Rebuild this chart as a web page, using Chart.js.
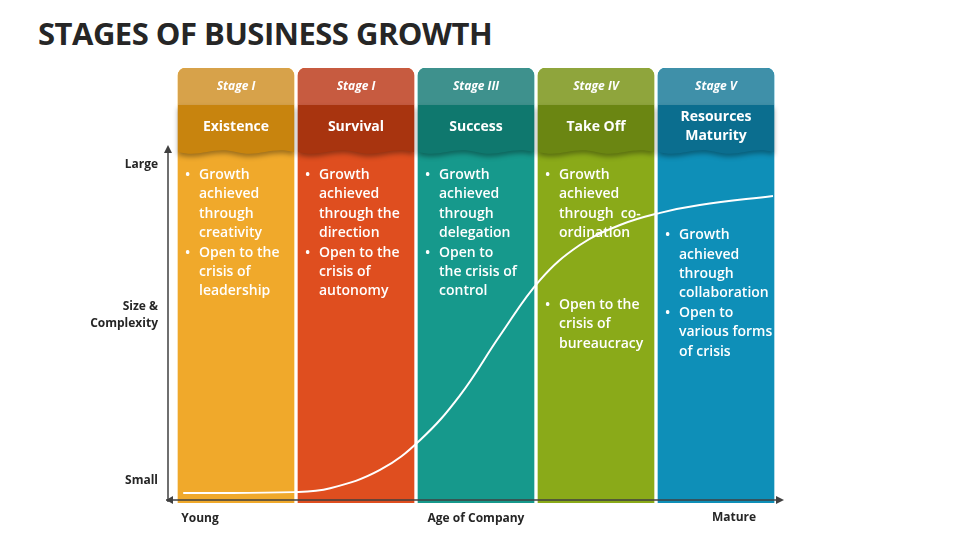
<!DOCTYPE html>
<html><head><meta charset="utf-8">
<script src="https://cdn.jsdelivr.net/npm/chart.js@4/dist/chart.umd.min.js"></script>
<style>
html,body{margin:0;padding:0;background:#fff;width:960px;height:540px;overflow:hidden;font-family:"Open Sans",sans-serif}
#t{position:absolute;left:38px;top:12px;font:bold 31px "Open Sans",sans-serif;color:#262626;letter-spacing:-0.5px}
#c{position:absolute;left:0;top:0}
</style></head><body>
<div id="t">STAGES OF BUSINESS GROWTH</div>
<canvas id="c" width="960" height="540"></canvas>
<script>
const stageLabels=["Stage I","Stage I","Stage III","Stage IV","Stage V"];
const stageTitles=[["Existence"],["Survival"],["Success"],["Take Off"],["Resources","Maturity"]];
const bodyColors=["#F0A92B","#DF4E1F","#16998C","#8AAA19","#0E8FB8"];
const bandColors=["#D7A24A","#C75B40","#3E918D","#8FA53C","#3F90A9"];
const titleColors=["#C8840E","#A8340F","#0F786E","#6B8612","#0B6E8F"];
const stageText=[
 [[0,"• Growth"],[1,"achieved"],[2,"through"],[3,"creativity"],[4,"• Open to the"],[5,"crisis of"],[6,"leadership"]],
 [[0,"• Growth"],[1,"achieved"],[2,"through the"],[3,"direction"],[4,"• Open to the"],[5,"crisis of"],[6,"autonomy"]],
 [[0,"• Growth"],[1,"achieved"],[2,"through"],[3,"delegation"],[4,"• Open to"],[5,"the crisis of"],[6,"control"]],
 [[0,"• Growth"],[1,"achieved"],[2,"through  co-"],[3,"ordination"],[6.7,"• Open to the"],[7.7,"crisis of"],[8.7,"bureaucracy"]],
 [[3.1,"• Growth"],[4.1,"achieved"],[5.1,"through"],[6.1,"collaboration"],[7.1,"• Open to"],[8.1,"various forms"],[9.1,"of crisis"]]
];
const columnHeight=[100,100,100,100,100];
const curveX=[1.2,19.5,25.7,34,40.7,47.3,54,60.7,67.3,74,80.7,87.3,99.5];
const curveY=[2.3,2.5,3.4,7.6,14.5,24.7,38.5,51.3,59.3,63.9,66.7,68.5,70.6];
const axisLabels={yTop:"Large",yMid:["Size &","Complexity"],yBottom:"Small",xLeft:"Young",xMid:"Age of Company",xRight:"Mature"};

function rr(ctx,x,y,w,h,r){ctx.beginPath();ctx.moveTo(x+r,y);ctx.lineTo(x+w-r,y);ctx.quadraticCurveTo(x+w,y,x+w,y+r);ctx.lineTo(x+w,y+h);ctx.lineTo(x,y+h);ctx.lineTo(x,y+r);ctx.quadraticCurveTo(x,y,x+r,y);ctx.closePath();}

const deco={id:"deco",
 beforeDatasetDraw(ch,args){
  if(args.index!==1)return;
  const ctx=ch.ctx;const meta=ch.getDatasetMeta(0);
  meta.data.forEach((b,i)=>{
   const w=b.width,x=b.x-w/2,top=b.y;
   ctx.save();
   rr(ctx,x,top,w,38,8);ctx.fillStyle=bandColors[i];ctx.fill();
   ctx.beginPath();ctx.moveTo(x,top+37);ctx.lineTo(x+w,top+37);ctx.lineTo(x+w,top+84);
   const base=top+84;
   ctx.bezierCurveTo(x+w*0.8,base-6,x+w*0.7,base+6,x+w*0.5,base);
   ctx.bezierCurveTo(x+w*0.3,base-6,x+w*0.2,base+6,x,base);
   ctx.closePath();ctx.shadowColor="rgba(0,0,0,0.35)";ctx.shadowBlur=5;ctx.shadowOffsetY=3;
   ctx.fillStyle=titleColors[i];ctx.fill();
   ctx.restore();
   ctx.save();ctx.fillStyle="#fff";ctx.textAlign="center";ctx.textBaseline="middle";
   ctx.font="italic bold 12px 'Open Sans'";ctx.fillText(stageLabels[i],b.x,top+19);
   ctx.font="bold 14px 'Open Sans'";
   const tl=stageTitles[i];tl.forEach((t,k)=>ctx.fillText(t,b.x,top+59+(k-(tl.length-1)/2)*19));
   ctx.textAlign="left";ctx.font="600 14px 'Open Sans'";
   stageText[i].forEach(([ln,t])=>{
    const y=top+107+ln*19.4;
    if(t.startsWith("• ")){ctx.fillText("•",x+7,y);ctx.fillText(t.slice(2),x+21,y);}
    else ctx.fillText(t,x+21,y);
   });
   ctx.restore();
  });
 },
 afterDraw(ch){
  const ctx=ch.ctx;ctx.save();ctx.strokeStyle="#404040";ctx.fillStyle="#404040";ctx.lineWidth=1.5;
  ctx.beginPath();ctx.moveTo(168,502);ctx.lineTo(168,150);ctx.moveTo(166,500);ctx.lineTo(778,500);ctx.stroke();
  ctx.beginPath();ctx.moveTo(168,145);ctx.lineTo(164,153);ctx.lineTo(172,153);ctx.fill();
  ctx.beginPath();ctx.moveTo(784,500);ctx.lineTo(776,496);ctx.lineTo(776,504);ctx.fill();
  ctx.beginPath();ctx.moveTo(166,500);ctx.lineTo(173,496);ctx.lineTo(173,504);ctx.fill();
  ctx.fillStyle="#262626";ctx.font="bold 12px 'Open Sans'";ctx.textAlign="right";ctx.textBaseline="middle";
  ctx.fillText(axisLabels.yTop,158,165);ctx.fillText(axisLabels.yMid[0],158,307);ctx.fillText(axisLabels.yMid[1],158,324);ctx.fillText(axisLabels.yBottom,158,481);
  ctx.textAlign="center";ctx.fillText(axisLabels.xLeft,200,519);ctx.fillText(axisLabels.xMid,476,519);ctx.fillText(axisLabels.xRight,734,518);
  ctx.restore();
 }};

new Chart(document.getElementById("c"),{
 data:{labels:stageLabels,datasets:[
  {type:"bar",data:columnHeight,backgroundColor:bodyColors,barThickness:116,grouped:false,borderRadius:{topLeft:8,topRight:8},borderSkipped:"bottom",xAxisID:"x",order:2},
  {type:"line",data:curveX.map((v,i)=>({x:v,y:curveY[i]})),xAxisID:"x2",borderColor:"#fff",borderWidth:2,pointRadius:0,tension:0.4,fill:false,order:1}
 ]},
 options:{responsive:false,animation:false,devicePixelRatio:1,
  layout:{padding:{left:176,right:184,top:68,bottom:37}},
  plugins:{legend:{display:false},tooltip:{enabled:false}},
  scales:{x:{display:false},x2:{type:"linear",display:false,min:0,max:100},y:{display:false,min:0,max:100}}},
 plugins:[deco]});
</script></body></html>
